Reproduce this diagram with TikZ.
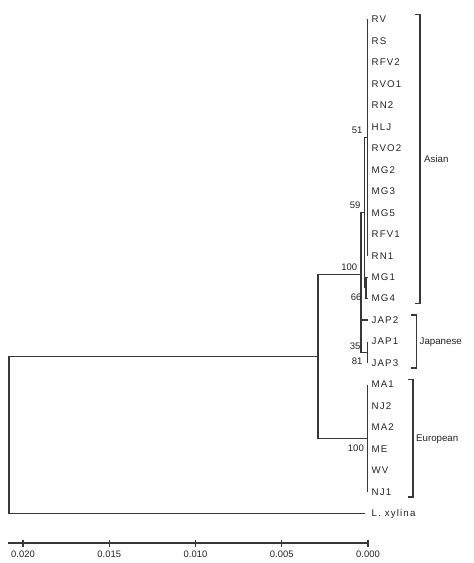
\documentclass[tikz,border=0pt]{standalone}
\usepackage{fontspec}
\setmainfont{Liberation Sans}
\newfontfamily\leaffont[LetterSpace=12]{Liberation Sans}
\definecolor{ink}{RGB}{35,35,35}
\definecolor{lineink}{RGB}{55,55,55}
\begin{document}
\begin{tikzpicture}[x=1pt,y=-1pt,
  leaf/.style={anchor=west, inner xsep=3.9pt, inner ysep=0pt, text height=6.8pt, text depth=0pt,
    font=\leaffont\fontsize{9.7}{10}\selectfont, text=ink},
  boot/.style={anchor=east, inner sep=0pt, text height=6.8pt, text depth=0pt,
    font=\fontsize{9.5}{10}\selectfont, text=ink},
  grp/.style={anchor=west, inner sep=0pt, text height=6.8pt, text depth=0pt,
    font=\fontsize{9.7}{10}\selectfont, text=ink},
  ticklab/.style={inner sep=0pt, text height=6.8pt, text depth=0pt,
    font=\fontsize{9.4}{10}\selectfont, text=ink},
  branch/.style={draw=lineink, line width=1.1pt},
  brk/.style={draw=lineink, line width=1.1pt},
  axisline/.style={draw=lineink, line width=1.1pt}]
\useasboundingbox (0,0) rectangle (474,563);

% leaves
\node[leaf] (RV)   at (367.5, 19.3) {RV};
\node[leaf] (RS)   at (367.5, 40.8) {RS};
\node[leaf] (RFV2) at (367.5, 62.3) {RFV2};
\node[leaf] (RVO1) at (367.5, 83.7) {RVO1};
\node[leaf] (RN2)  at (367.5,105.2) {RN2};
\node[leaf] (HLJ)  at (367.5,126.7) {HLJ};
\node[leaf] (RVO2) at (367.5,148.2) {RVO2};
\node[leaf] (MG2)  at (367.5,169.7) {MG2};
\node[leaf] (MG3)  at (367.5,191.1) {MG3};
\node[leaf] (MG5)  at (367.5,212.6) {MG5};
\node[leaf] (RFV1) at (367.5,234.1) {RFV1};
\node[leaf] (RN1)  at (367.5,255.6) {RN1};
\node[leaf] (MG1)  at (367.5,277.1) {MG1};
\node[leaf] (MG4)  at (367.5,298.5) {MG4};
\node[leaf] (JAP2) at (367.5,320.0) {JAP2};
\node[leaf] (JAP1) at (367.5,341.5) {JAP1};
\node[leaf] (JAP3) at (367.5,363.0) {JAP3};
\node[leaf] (MA1)  at (367.5,384.5) {MA1};
\node[leaf] (NJ2)  at (367.5,405.9) {NJ2};
\node[leaf] (MA2)  at (367.5,427.4) {MA2};
\node[leaf] (ME)   at (367.5,448.9) {ME};
\node[leaf] (WV)   at (367.5,470.4) {WV};
\node[leaf] (NJ1)  at (367.5,491.9) {NJ1};
\node[leaf, inner xsep=6.5pt] (xyl) at (365,513.3) {L. xylina};

% internal nodes
\coordinate (poly) at (367.5,137.5);
\coordinate (n66)  at (366,287.8);
\coordinate (n51)  at (364.5,212.6);
\coordinate (n81)  at (367.5,352.3);
\coordinate (n35)  at (361,336.1);
\coordinate (n59)  at (361,274.4);
\coordinate (nEu)  at (367.5,438.2);
\coordinate (nIn)  at (318,356.3);
\coordinate (root) at (9,434.8);

% branches
\draw[branch] (RV.west) -- (RN1.west);
\draw[branch] (MG1.west) -| (n66) |- (MG4.west);
\draw[branch] (poly) -| (n51) |- (n66);
\draw[branch] (JAP1.west) -| (n81) |- (JAP3.west);
\draw[branch] (JAP2.west) -| (n35) |- (n81);
\draw[branch] (n51) -| (n59) |- (n35);
\draw[branch] (MA1.west) -- (NJ1.west);
\draw[branch] (n59) -| (nIn) |- (nEu);
\draw[branch] (nIn) -| (root) |- (xyl.west);

% bootstrap values
\node[boot] (b51)  at (362.7,130.5) {51};
\node[boot] (b59)  at (360.7,205.3) {59};
\node[boot] (b100a) at (357.3,267.0) {100};
\node[boot] (b66)  at (361.7,297.5) {66};
\node[boot] (b35)  at (360.7,346.0) {35};
\node[boot] (b81)  at (362.7,361.5) {81};
\node[boot] (b100b) at (364.0,448.3) {100};

% group brackets
\draw[brk] (415,14.3) -- (420,14.3) -- (420,303.5) -- (415,303.5);
\draw[brk] (411,315) -- (416.5,315) -- (416.5,368) -- (411,368);
\draw[brk] (408,379.5) -- (413,379.5) -- (413,497) -- (408,497);
\node[grp] (gA) at (424,159) {Asian};
\node[grp] (gJ) at (419.5,341.5) {Japanese};
\node[grp] (gE) at (416,438.2) {European};

% scale axis
\draw[axisline] (8,543) -- (368,543);
\foreach \xx/\lab [count=\k] in {23/0.020, 109.25/0.015, 195.5/0.010, 281.75/0.005, 368/0.000} {
  \draw[axisline] (\xx,540) -- (\xx,546.5);
  \node[ticklab] (t\k) at (\xx,554) {\lab};
}
\end{tikzpicture}
\end{document}
